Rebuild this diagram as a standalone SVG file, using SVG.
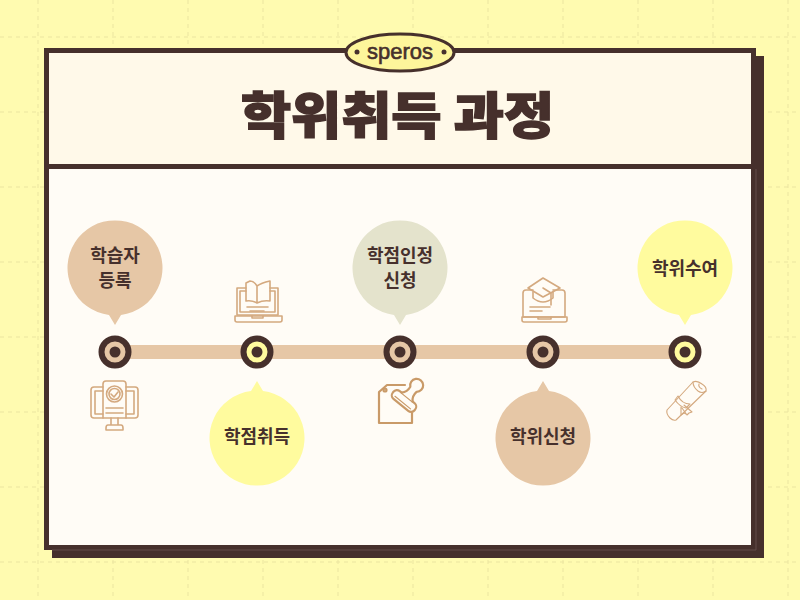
<svg xmlns="http://www.w3.org/2000/svg" width="800" height="600" viewBox="0 0 800 600">
<style>
.grid{stroke:#ebe5a0;stroke-width:1;stroke-dasharray:4 4;fill:none}
.lbl{font-family:"Noto Sans CJK KR","Noto Sans",sans-serif;font-size:18px;font-weight:700;fill:#46302c;text-anchor:middle}
.ico{fill:none;stroke:#d4a97f;stroke-width:1.600;stroke-linejoin:round;stroke-linecap:round}
.ring{stroke:#46302c;stroke-width:6}
.hub{fill:#46302c}
</style>
<rect width="800" height="600" fill="#fffbb0"/>
<g class="grid">
<path d="M38 0V600M113 0V600M188 0V600M263 0V600M338 0V600M413 0V600M488 0V600M563 0V600M638 0V600M713 0V600M788 0V600"/>
<path d="M0 37H800M0 112H800M0 187H800M0 262H800M0 337H800M0 412H800M0 487H800M0 562H800"/>
</g>
<g id="frame">
<rect x="52" y="56" width="712" height="502" fill="#46302c"/>
<rect x="46.500" y="50.500" width="707" height="497" fill="#fffcf6" stroke="#46302c" stroke-width="5"/>
<path d="M756 169V550H52" fill="none" stroke="#6a5450" stroke-width="0.800"/>
<rect x="46.500" y="50.500" width="707" height="116" fill="#fff9e9" stroke="#46302c" stroke-width="5"/>
</g>
<g id="badge">
<ellipse cx="400" cy="52.500" rx="54" ry="18.500" fill="#fdf59b" stroke="#46302c" stroke-width="3"/>
<circle cx="357" cy="52" r="2.500" fill="#46302c"/>
<circle cx="444" cy="52" r="2.500" fill="#46302c"/>
<text x="400" y="59" font-family="'Liberation Sans',sans-serif" font-size="22" fill="#46302c" stroke="#46302c" stroke-width="0.600" text-anchor="middle">speros</text>
</g>
<text id="title" transform="translate(397.500 134) scale(1.090 1)" font-family="'Noto Sans CJK KR',sans-serif" font-size="50" font-weight="900" fill="#46302c" stroke="#46302c" stroke-width="1.500" text-anchor="middle">학위취득 과정</text>
<g id="connectors">
<rect x="115" y="345" width="570" height="14" fill="#e6c7a6"/>
</g>
<g id="step1">
<path d="M115 325L109 315A47.500 47.500 0 1 1 121 315Z" fill="#e6c7a6"/>
<text class="lbl" x="115" y="262">학습자</text><text class="lbl" x="115" y="287">등록</text>
<circle class="ring" cx="115" cy="352" r="13.500" fill="#e6c7a6"/><circle class="hub" cx="115" cy="352" r="5.500"/>
<g class="ico">
<path d="M103 387H94Q91 387 91 390V415Q91 418 94 418H135Q138 418 138 415V390Q138 387 135 387H126"/>
<path d="M103 391H95V414H103M126 391H134V414H126"/>
<path d="M103 418V384Q103 381 106 381H123Q126 381 126 384V418"/>
<circle cx="114.500" cy="394" r="8"/><circle cx="114.500" cy="394" r="5.500"/><path d="M111 394L114 397L118 392"/>
<path d="M106 408H123M106 413H123"/>
<path d="M111 418V425M118 418V425M108 425H121Q123 425 123 428V430H106V428Q106 425 108 425Z"/>
</g>
</g>
<g id="step2">
<path d="M257 381L263 391A47.500 47.500 0 1 1 251 391Z" fill="#fffb9e"/>
<text class="lbl" x="257" y="443">학점취득</text>
<circle class="ring" cx="257" cy="352" r="13.500" fill="#fffb9e"/><circle class="hub" cx="257" cy="352" r="5.500"/>
<g class="ico">
<path d="M246 288H237V315H278V288H270"/>
<path d="M246 291H240V312H275V291H270"/>
<path d="M235 316H282V320Q282 322 280 322H237Q235 322 235 320Z"/>
<path d="M252 316V318H263V316"/>
<path d="M257 303Q252 300 246 301V283L250 281Q254 281 257 286Q261 283 270 281V301Q263 300 257 303V286"/>
<path d="M247 307H268M250 311H264"/>
</g>
</g>
<g id="step3">
<path d="M400 325L394 315A47.500 47.500 0 1 1 406 315Z" fill="#e4e3cc"/>
<text class="lbl" x="400" y="262">학점인정</text><text class="lbl" x="400" y="287">신청</text>
<circle class="ring" cx="400" cy="352" r="13.500" fill="#e6c7a6"/><circle class="hub" cx="400" cy="352" r="5.500"/>
<g class="ico" style="stroke:#c99a68;stroke-width:2.200">
<path d="M405 385H387L379 392V423H412V413"/>
<circle cx="385" cy="390" r="1.500"/>
<g transform="translate(404 401) rotate(39)">
<rect x="-14" y="-5" width="28" height="10" rx="4.500" fill="#fffcf6"/>
<path d="M-10 2H10" stroke-width="1.200"/>
<path d="M-7 -5Q-3 -9 -4 -15A6.500 6.500 0 1 1 4 -15Q3 -9 7 -5" fill="#fffcf6"/>
</g>
</g>
</g>
<g id="step4">
<path d="M543 381L549 391A47.500 47.500 0 1 1 537 391Z" fill="#e6c7a6"/>
<text class="lbl" x="543" y="443">학위신청</text>
<circle class="ring" cx="543" cy="352" r="13.500" fill="#e6c7a6"/><circle class="hub" cx="543" cy="352" r="5.500"/>
<g class="ico">
<path d="M533 290H526Q523 290 523 293V317H565V293Q565 290 562 290H553"/>
<path d="M522 317H567V320Q567 322 565 322H524Q522 322 522 320Z"/>
<path d="M538 317V319H551V317"/>
<path d="M528 288L543 278L560 288L543 297Z"/>
<path d="M533 292V298Q543 306 553 298V292"/>
<path d="M543 288L551 293V305"/>
<path d="M530 307H550M530 311H542"/>
</g>
</g>
<g id="step5">
<path d="M685 325L679 315A47.500 47.500 0 1 1 691 315Z" fill="#fffb9e"/>
<text class="lbl" x="685" y="275">학위수여</text>
<circle class="ring" cx="685" cy="352" r="13.500" fill="#fffb9e"/><circle class="hub" cx="685" cy="352" r="5.500"/>
<g class="ico" style="stroke-width:1.100">
<path d="M693 382L667 410Q666 414 670 418Q673 421 676 420L706 391Q707 387 702 384Q697 380 693 382Z"/>
<path d="M693 382Q693 387 698 391Q702 394 706 391M699 384Q698 387 702 389"/>
<path d="M678 396Q682 404 690 404L686 408Q680 407 675 400Z"/>
<path d="M684 405L692 412L689 413L687 415L682 408M681 407L681 415L684 413L686 414"/>
</g>
</g>
</svg>
